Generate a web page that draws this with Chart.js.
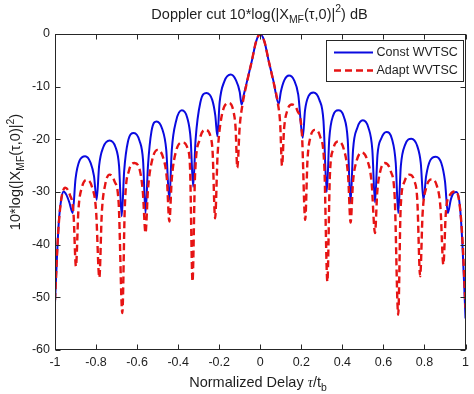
<!DOCTYPE html>
<html>
<head>
<meta charset="utf-8">
<script src="https://cdn.jsdelivr.net/npm/chart.js@4.4.1/dist/chart.umd.min.js"></script>
<style>
  html, body { margin: 0; padding: 0; background: #fff; }
  canvas { display: block; }
</style>
</head>
<body>
<canvas id="c" width="474" height="394"></canvas>
<script>
// ---------- data ----------
const seriesLabels = ['Const WVTSC', 'Adapt WVTSC'];

const tauConst = [
  -1.0, -0.99, -0.982, -0.97, -0.958, -0.945, -0.93, -0.914, -0.90, -0.88, -0.853, -0.826, -0.81, -0.797,
  -0.785, -0.765, -0.734, -0.705, -0.688, -0.675, -0.663, -0.645, -0.616, -0.588, -0.571, -0.559,
  -0.547, -0.53, -0.505, -0.478, -0.458, -0.443, -0.431, -0.41, -0.382, -0.355, -0.339, -0.327,
  -0.315, -0.292, -0.262, -0.234, -0.219, -0.209, -0.198, -0.175, -0.144, -0.118, -0.10, -0.091,
  -0.08, -0.064, -0.041, -0.02, 0,
  0.02, 0.041, 0.064, 0.09, 0.10, 0.118, 0.14, 0.165, 0.185, 0.207, 0.218, 0.235, 0.259, 0.288,
  0.308, 0.324, 0.336, 0.355, 0.38, 0.408, 0.426, 0.44, 0.452, 0.473, 0.50, 0.527, 0.546, 0.559,
  0.571, 0.59, 0.615, 0.642, 0.66, 0.672, 0.685, 0.706, 0.736, 0.765, 0.782, 0.795, 0.808, 0.828,
  0.855, 0.882, 0.90, 0.914, 0.928, 0.942, 0.957, 0.972, 0.985, 1.0
];
const dbConst = [
  -51, -42, -36, -31.5, -29.9, -30.5, -32, -34, -27.5, -24, -23.2, -24.5, -27, -31.5,
  -25, -21.5, -20.2, -21.5, -25, -34.6, -26, -20.5, -18.8, -20.3, -24, -34,
  -25, -18.5, -16.6, -18, -22, -31.5, -22, -16.5, -14.5, -16, -20, -29,
  -20, -13, -11.2, -12.5, -15.5, -19.4, -13, -9, -7.7, -8.8, -11, -13.4,
  -11.5, -8.9, -5.1, -1.4, 0,
  -1.4, -5.1, -8.9, -13.3, -11, -8.7, -7.9, -8.8, -11.5, -19.7, -14.5, -11.8, -11.1, -12.5,
  -16.5, -30, -20, -15.5, -14.5, -15.8, -20, -32, -22, -17.8, -16.4, -17.8, -22, -32,
  -23, -19.8, -18.6, -20, -24.5, -34, -25, -21, -19.9, -21.3, -24.5, -31.5, -27, -24,
  -23.3, -24.5, -28, -34, -31.5, -30.2, -30, -32.5, -40, -54
];

const tauAdapt = [
  -1.0, -0.985, -0.97, -0.95, -0.928, -0.91, -0.898, -0.886, -0.868, -0.845, -0.82, -0.80, -0.784,
  -0.772, -0.755, -0.734, -0.71, -0.69, -0.672, -0.66, -0.64, -0.613, -0.586, -0.572, -0.559,
  -0.547, -0.527, -0.50, -0.473, -0.455, -0.443, -0.431, -0.41, -0.379, -0.352, -0.342, -0.33,
  -0.318, -0.295, -0.269, -0.24, -0.232, -0.22, -0.208, -0.19, -0.152, -0.13, -0.12, -0.112,
  -0.10, -0.087, -0.064, -0.041, -0.02, 0,
  0.02, 0.041, 0.064, 0.085, 0.097, 0.106, 0.116, 0.132, 0.154, 0.18, 0.203, 0.219, 0.23, 0.245,
  0.267, 0.292, 0.312, 0.327, 0.339, 0.356, 0.38, 0.408, 0.428, 0.44, 0.452, 0.47, 0.493, 0.52,
  0.542, 0.559, 0.57, 0.585, 0.606, 0.635, 0.655, 0.672, 0.684, 0.703, 0.727, 0.75, 0.765, 0.779,
  0.791, 0.81, 0.835, 0.86, 0.878, 0.892, 0.904, 0.925, 0.952, 0.97, 0.985, 1.0
];
const dbAdapt = [
  -50.5, -38, -31.5, -29.2, -30.5, -34, -44.1, -33.5, -29, -27.7, -29, -33.5, -46.3,
  -34, -28.5, -26.7, -28, -32, -53, -33, -26, -24.5, -26, -30, -37.8,
  -29.5, -24, -22, -23.5, -27.5, -35.6, -27.5, -22.2, -20.6, -22, -25.5, -47,
  -27, -20, -18.2, -19.8, -22.5, -35, -23, -16, -13.1, -14.8, -18, -25.4,
  -17.5, -13.5, -9, -5.1, -1.4, 0,
  -1.4, -5.1, -9, -13, -17, -25, -18, -14.5, -13.4, -14.5, -19, -35.3, -24, -19.5,
  -18.2, -19.5, -25, -47, -27, -21.8, -20.4, -22, -27, -35.8, -28, -24, -22.5, -23.8,
  -28, -37.8, -30, -26, -24.5, -26, -31, -53.3, -33, -28, -26.7, -27.8, -31.5, -46,
  -34, -29, -27.6, -28.8, -33, -43.8, -34, -30.5, -29.9, -32, -39, -52
];

const xTickValues = [-1, -0.8, -0.6, -0.4, -0.2, 0, 0.2, 0.4, 0.6, 0.8, 1];
const yTickValues = [0, -10, -20, -30, -40, -50, -60];

// ---------- helpers ----------
const FAM = "'Liberation Sans', Arial, Helvetica, sans-serif";
const TXT = '#1e1e1e';

function segFont(seg, size) {
  const s = (seg.sub || seg.sup) ? size * 0.72 : size;
  return (seg.it ? 'italic ' : '') + s.toFixed(2) + 'px ' + (seg.serif ? "'Liberation Serif', 'DejaVu Serif', serif" : FAM);
}
function richWidth(ctx, segs, size) {
  let w = 0;
  for (const s of segs) { ctx.font = segFont(s, size); w += ctx.measureText(s.t).width; }
  return w;
}
function drawRich(ctx, segs, cx, by, size) {
  const w = richWidth(ctx, segs, size);
  let x = cx - w / 2;
  ctx.textAlign = 'left';
  ctx.textBaseline = 'alphabetic';
  for (const s of segs) {
    ctx.font = segFont(s, size);
    let y = by;
    if (s.sub) y += size * 0.30;
    if (s.sup) y -= size * 0.42;
    ctx.fillText(s.t, x, y);
    x += ctx.measureText(s.t).width;
  }
}

const titleSegs = [{t: 'Doppler cut 10*log(|X'}, {t: 'MF', sub: true}, {t: '(τ,0)|'}, {t: '2', sup: true}, {t: ') dB'}];
const yLabelSegs = [{t: '10*log(|X'}, {t: 'MF', sub: true}, {t: '(τ,0)|'}, {t: '2', sup: true}, {t: ')'}];
const xLabelSegs = [{t: 'Normalized Delay '}, {t: 'τ', it: true, serif: true}, {t: '/t'}, {t: 'b', sub: true}];

const decorPlugin = {
  id: 'decor',
  afterDraw(chart) {
    const ctx = chart.ctx;
    const a = chart.chartArea;
    const xs = chart.scales.x, ys = chart.scales.y;
    ctx.save();
    // frame
    ctx.strokeStyle = '#262626';
    ctx.lineWidth = 1;
    const L = Math.round(a.left) + 0.5, R = Math.round(a.right) - 0.5;
    const T = Math.round(a.top) + 0.5, B = Math.round(a.bottom) - 0.5;
    ctx.strokeRect(L, T, R - L, B - T);
    // inward ticks on all four sides
    const tl = 5;
    ctx.beginPath();
    xTickValues.forEach(v => {
      const px = Math.round(xs.getPixelForValue(v)) + 0.5;
      ctx.moveTo(px, B); ctx.lineTo(px, B - tl);
      ctx.moveTo(px, T); ctx.lineTo(px, T + tl);
    });
    yTickValues.forEach(v => {
      const py = Math.round(ys.getPixelForValue(v)) + 0.5;
      ctx.moveTo(L, py); ctx.lineTo(L + tl, py);
      ctx.moveTo(R, py); ctx.lineTo(R - tl, py);
    });
    ctx.stroke();

    // title and axis labels
    ctx.fillStyle = TXT;
    drawRich(ctx, titleSegs, 259.5, 18.5, 14.5);
    drawRich(ctx, xLabelSegs, 258, 386.5, 14.5);
    ctx.save();
    ctx.translate(20, 172);
    ctx.rotate(-Math.PI / 2);
    drawRich(ctx, yLabelSegs, 0, 0, 14.5);
    ctx.restore();

    // legend box
    const bx = 326.5, by = 40.5, bw = 137, bh = 41;
    ctx.fillStyle = '#fff';
    ctx.fillRect(bx, by, bw, bh);
    ctx.strokeStyle = '#262626';
    ctx.lineWidth = 1;
    ctx.strokeRect(bx, by, bw, bh);
    const rows = [52.5, 70.5];
    chart.data.datasets.forEach((ds, i) => {
      ctx.beginPath();
      ctx.strokeStyle = ds.borderColor;
      ctx.lineWidth = ds.borderWidth;
      ctx.setLineDash(ds.borderDash || []);
      ctx.moveTo(334, rows[i]);
      ctx.lineTo(373, rows[i]);
      ctx.stroke();
      ctx.setLineDash([]);
      ctx.fillStyle = TXT;
      ctx.font = '12.5px ' + FAM;
      ctx.textAlign = 'left';
      ctx.textBaseline = 'middle';
      ctx.fillText(ds.label, 376.5, rows[i] + 0.5);
    });
    ctx.restore();
  }
};

new Chart(document.getElementById('c'), {
  type: 'line',
  data: {
    datasets: [
      {
        label: seriesLabels[0],
        data: tauConst.map((t, i) => ({x: t, y: dbConst[i]})),
        borderColor: '#0a0ae0',
        borderWidth: 2,
        pointRadius: 0,
        cubicInterpolationMode: 'monotone',
        fill: false,
        order: 1
      },
      {
        label: seriesLabels[1],
        data: tauAdapt.map((t, i) => ({x: t, y: dbAdapt[i]})),
        borderColor: '#e61414',
        borderWidth: 2.4,
        borderDash: [7, 4],
        pointRadius: 0,
        cubicInterpolationMode: 'monotone',
        fill: false,
        order: 0
      }
    ]
  },
  options: {
    responsive: false,
    animation: false,
    devicePixelRatio: 1,
    layout: {padding: {top: 34, right: 6, left: 0, bottom: 0}},
    plugins: {legend: {display: false}, title: {display: false}, tooltip: {enabled: false}},
    scales: {
      x: {
        type: 'linear', min: -1, max: 1,
        afterBuildTicks(s) { s.ticks = xTickValues.map(v => ({value: v})); },
        ticks: {
          callback: v => String(Math.round(v * 10) / 10),
          autoSkip: false, maxRotation: 0, padding: 5,
          color: TXT, font: {family: FAM, size: 12.5}
        },
        grid: {display: false, drawTicks: false},
        border: {display: false},
        afterFit(s) { s.height = 44; }
      },
      y: {
        type: 'linear', min: -60, max: 0,
        afterBuildTicks(s) { s.ticks = yTickValues.map(v => ({value: v})); },
        ticks: {
          autoSkip: false, padding: 5,
          color: TXT, font: {family: FAM, size: 12.5}
        },
        grid: {display: false, drawTicks: false},
        border: {display: false},
        afterFit(s) { s.width = 55; }
      }
    }
  },
  plugins: [decorPlugin]
});
</script>
</body>
</html>
